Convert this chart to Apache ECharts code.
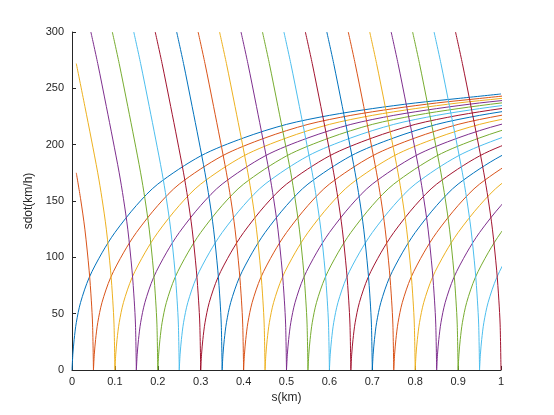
<!DOCTYPE html>
<html>
<head>
<meta charset="utf-8"/>
<script src="https://cdn.jsdelivr.net/npm/echarts@6/dist/echarts.min.js"></script>
</head>
<body style="margin:0;background:#fff">
<div id="main" style="width:554px;height:415px;"></div>
<script>
// acceleration profile (distance from start km, speed km/h)
var accD = [0, 0.002, 0.005, 0.01, 0.02, 0.04, 0.07, 0.1, 0.15, 0.2, 0.3, 0.4, 0.5, 0.6, 0.7, 0.8, 0.9, 1.0];
var accV = [0, 14, 27, 42, 60, 82, 104, 122, 146, 165, 190, 206, 218, 226, 232, 237, 241, 245];
// braking profile (distance before stop km, speed km/h)
var brkD = [0, 0.002, 0.005, 0.01, 0.02, 0.03, 0.04, 0.055, 0.07, 0.09, 0.106];
var brkV = [0, 40, 62, 88, 125, 152, 175, 205, 234, 272, 300];
var accStarts = [0, 0.05, 0.1, 0.15, 0.2, 0.25, 0.3, 0.35, 0.4, 0.45, 0.5, 0.55, 0.6, 0.65, 0.7, 0.75, 0.8, 0.85, 0.9, 0.95];
var brkEnds = [0.05, 0.1, 0.15, 0.2, 0.25, 0.3, 0.35, 0.4, 0.45, 0.5, 0.55, 0.6, 0.65, 0.7, 0.75, 0.8, 0.85, 0.9, 0.95, 1.0];
var xTicks = [0, 0.1, 0.2, 0.3, 0.4, 0.5, 0.6, 0.7, 0.8, 0.9, 1];
var yTicks = [0, 50, 100, 150, 200, 250, 300];

var colors = ['#0072BD', '#D95319', '#EDB120', '#7E2F8E', '#77AC30', '#4DBEEE', '#A2142F'];

var series = [];
accStarts.forEach(function (s0, i) {
    var pts = accD.map(function (d, j) { return [s0 + d, accV[j]]; });
    series.push({type: 'line', data: pts, smooth: 0.3, symbol: 'none', clip: true,
        lineStyle: {width: 1, color: colors[i % 7]}});
});
brkEnds.forEach(function (e, i) {
    var pts = [];
    for (var j = brkD.length - 1; j >= 0; j--) {
        var s = e - brkD[j];
        if (s >= 0.0099) pts.push([s, brkV[j]]);
    }
    series.push({type: 'line', data: pts, smooth: 0.3, symbol: 'none', clip: true,
        lineStyle: {width: 1, color: colors[(i + 1) % 7]}});
});

var txt = {color: '#262626', fontSize: 11, fontFamily: 'Liberation Sans'};
var option = {
    animation: false,
    grid: {left: 72, right: 53, top: 32, bottom: 45},
    xAxis: {
        type: 'value', min: 0, max: 1, interval: 0.1,
        name: 's(km)', nameLocation: 'middle', nameGap: 22,
        nameTextStyle: {color: '#262626', fontSize: 12, fontFamily: 'Liberation Sans'},
        axisLine: {lineStyle: {color: '#262626'}},
        axisTick: {inside: true, length: 4, lineStyle: {color: '#262626'}},
        axisLabel: Object.assign({margin: 6, formatter: function (v) {
            var k = xTicks.indexOf(Math.round(v * 10) / 10); return k >= 0 ? String(xTicks[k]) : ''; }}, txt),
        splitLine: {show: false}
    },
    yAxis: {
        type: 'value', min: 0, max: 300, interval: 50,
        name: 'sdot(km/h)', nameLocation: 'middle', nameGap: 32,
        nameTextStyle: {color: '#262626', fontSize: 12, fontFamily: 'Liberation Sans'},
        axisLine: {show: true, lineStyle: {color: '#262626'}},
        axisTick: {show: true, inside: true, length: 4, lineStyle: {color: '#262626'}},
        axisLabel: Object.assign({margin: 8, formatter: function (v) {
            return yTicks.indexOf(v) >= 0 ? String(v) : ''; }}, txt),
        splitLine: {show: false}
    },
    series: series
};
var chart = echarts.init(document.getElementById('main'));
chart.setOption(option);
</script>
</body>
</html>
